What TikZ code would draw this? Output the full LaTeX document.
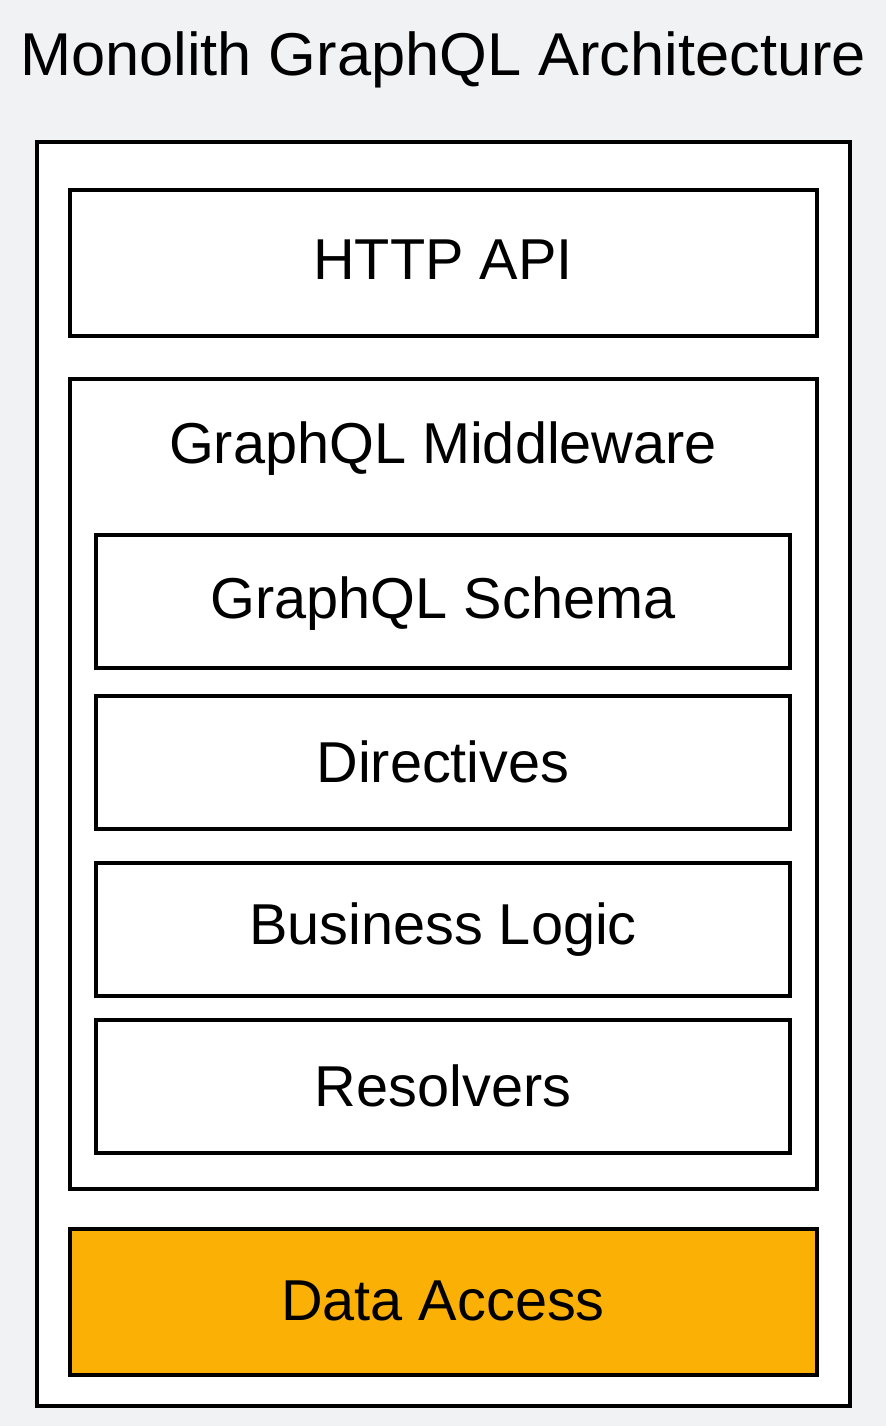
\documentclass[tikz,border=0pt]{standalone}
\usepackage{fontspec}
\setmainfont{Liberation Sans}
\usepackage{tikz}
\usetikzlibrary{positioning}
\definecolor{pagebg}{HTML}{F1F2F4}
\definecolor{accessfill}{HTML}{FAB005}

\tikzset{
  layer/.style={draw=black, line width=2.6pt, fill=white, anchor=north west, inner sep=0pt},
  lbl/.style={font=\fontsize{41}{48}\selectfont},
  headlbl/.style={font=\fontsize{43}{50}\selectfont, xscale=1.015},
}

\begin{document}
\begin{tikzpicture}[x=0.025cm, y=-0.025cm]
			\fill[pagebg] (0,0) rectangle (886,1426);
			\useasboundingbox (0,0) rectangle (886,1426);
			\node[headlbl] (title) at (443,60) {Monolith GraphQL Architecture};
			
			\draw[layer] (37,142) rectangle (850,1406);
			
			\draw[layer] (70,190) rectangle (817,336);
			\node[lbl] (http) at (443,260) {HTTP API};
			
			\draw[layer] (70,379) rectangle (817,1189);
			\node[lbl] (mid) at (443,449) {GraphQL Middleware};
			
			\draw[layer] (96,535) rectangle (790,668);
			\node[lbl] (schema) at (443,604) {GraphQL Schema};
			\draw[layer] (96,696) rectangle (790,829);
			\node[lbl] (dir) at (443,762) {Directives};
			\draw[layer] (96,863) rectangle (790,996);
			\node[lbl] (logic) at (443,930) {Business Logic};
			\draw[layer] (96,1020) rectangle (790,1153);
			\node[lbl] (res) at (443,1086) {Resolvers};
			
			\draw[layer, fill=accessfill] (70,1229) rectangle (817,1375);
			\node[lbl] (data) at (443,1301) {Data Access};
		\end{tikzpicture}
\end{document}
